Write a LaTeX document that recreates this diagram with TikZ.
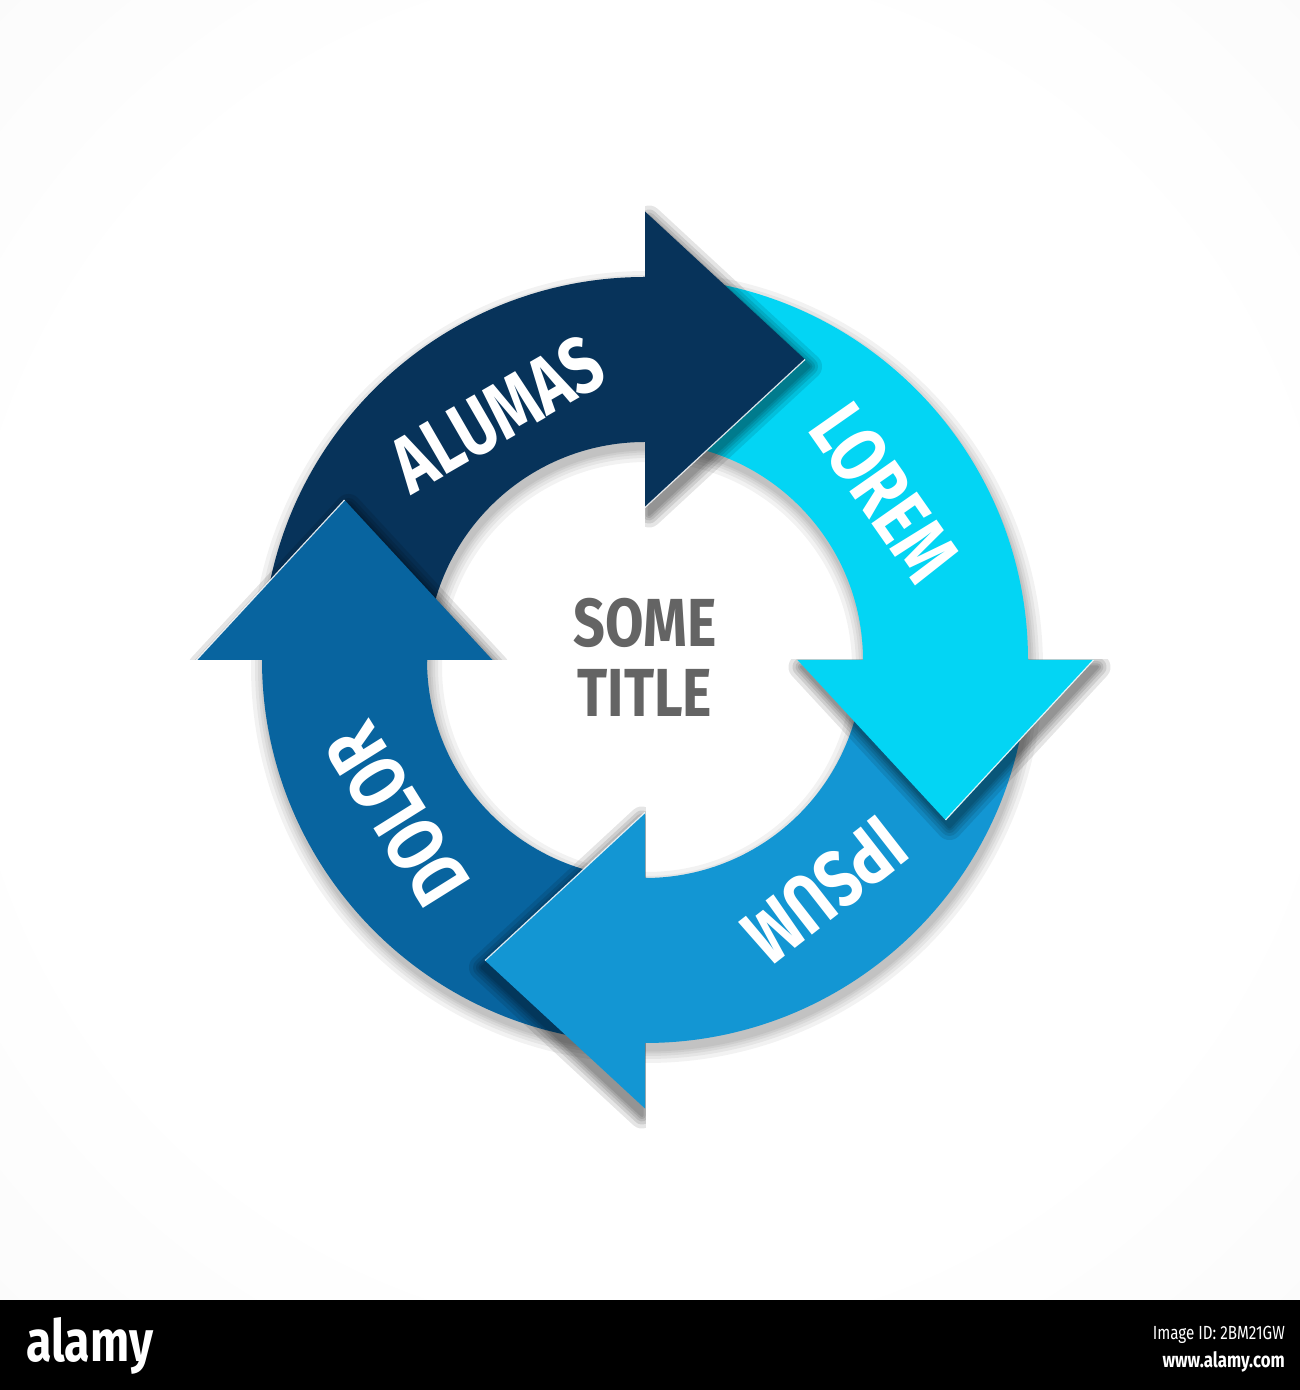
\documentclass[tikz,border=0pt]{standalone}
\usepackage{fontspec}
\newfontfamily\dinfont{Fira Sans}[FakeStretch=0.78]
\newfontfamily\titlefont{Fira Sans}[FakeStretch=0.82]
\newfontfamily\logofont{Fira Sans}[FakeStretch=0.8]
\definecolor{cNavy}{HTML}{07335A}
\definecolor{cCyan}{HTML}{03D5F4}
\definecolor{cMid}{HTML}{1396D3}
\definecolor{cSteel}{HTML}{08649F}
\definecolor{cTitle}{HTML}{646464}
\pgfdeclareradialshading{bgshade}{\pgfpoint{0bp}{0bp}}{color(0bp)=(white); color(25bp)=(white); color(50bp)=(gray!7); color(72bp)=(gray!13)}
\newcommand{\mysoftshadow}[3]{%
  \foreach \w in {26,18,12,7,3}{%
    \begin{scope}[transparency group, opacity=#1]
      \filldraw[black, line width=\w pt, line join=round, shift={#2}] #3;
    \end{scope}}}
\begin{document}
\begin{tikzpicture}[x=1pt,y=1pt,
  lbl/.style={text=white, font=\dinfont\bfseries\fontsize{80}{84}\selectfont, inner sep=0pt},
  ttl/.style={text=cTitle, font=\titlefont\bfseries\fontsize{68}{70}\selectfont, align=center, inner sep=0pt},
  hilite/.style={white, opacity=0.85, line width=1.2pt}
]
\useasboundingbox (0,0) rectangle (1300,1390);
% background
\shade[shading=bgshade] (0,90) rectangle (1300,1390);
\fill[black] (0,0) rectangle (1300,90);
\node[text=white, font=\logofont\bfseries\fontsize{58}{60}\selectfont, anchor=base west, inner sep=0pt] (logo) at (26,28) {alamy};
\node[text=white, font=\logofont\fontsize{19}{20}\selectfont, anchor=base east, inner sep=0pt] (imgid) at (1285,50) {Image ID: 2BM21GW};
\node[text=white, font=\logofont\bfseries\fontsize{21}{22}\selectfont, anchor=base east, inner sep=0pt] (www) at (1285,22) {www.alamy.com};

\begin{scope}[shift={(645,730)}]
% band shadows
\mysoftshadow{0.05}{(2,-7)}{(180:383) arc[start angle=180, end angle=-180, radius=383] -- cycle (0:218) arc[start angle=0, end angle=360, radius=218]}
% bands
\fill[cNavy] (180:383) arc[start angle=180, end angle=90, radius=383] -- (90:218) arc[start angle=90, end angle=180, radius=218] -- cycle;
\fill[cCyan] (90:383) arc[start angle=90, end angle=0, radius=383] -- (0:218) arc[start angle=0, end angle=90, radius=218] -- cycle;
\fill[cMid] (0:383) arc[start angle=0, end angle=-90, radius=383] -- (-90:218) arc[start angle=-90, end angle=0, radius=218] -- cycle;
\fill[cSteel] (-90:383) arc[start angle=-90, end angle=-180, radius=383] -- (-180:218) arc[start angle=-180, end angle=-90, radius=218] -- cycle;
% head shadows (only on the tip side of each base)
\begin{scope}
\clip (0,-700) rectangle (700,700);
\mysoftshadow{0.1}{(4,-7)}{(0,152.5) -- (0,448.5) -- (160,300.5) -- cycle}
\end{scope}
\begin{scope}
\clip (-700,0) rectangle (700,-700);
\mysoftshadow{0.1}{(4,-7)}{(152.5,0) -- (448.5,0) -- (300.5,-160) -- cycle}
\end{scope}
\begin{scope}
\clip (-700,-700) rectangle (0,700);
\mysoftshadow{0.1}{(-3,-7)}{(0,-152.5) -- (0,-448.5) -- (-160,-300.5) -- cycle}
\end{scope}
\begin{scope}
\clip (-700,0) rectangle (700,700);
\mysoftshadow{0.1}{(4,-7)}{(-152.5,0) -- (-448.5,0) -- (-300.5,160) -- cycle}
\end{scope}
% heads (base pushed 2pt back into own band to hide seams)
\fill[cNavy] (-2,218) -- (-2,383) -- (0,383) -- (0,448.5) -- (160,300.5) -- (0,152.5) -- (0,218) -- cycle;
\fill[cCyan] (218,2) -- (383,2) -- (383,0) -- (448.5,0) -- (300.5,-160) -- (152.5,0) -- (218,0) -- cycle;
\fill[cMid] (2,-218) -- (2,-383) -- (0,-383) -- (0,-448.5) -- (-160,-300.5) -- (0,-152.5) -- (0,-218) -- cycle;
\fill[cSteel] (-218,-2) -- (-383,-2) -- (-383,0) -- (-448.5,0) -- (-300.5,160) -- (-152.5,0) -- (-218,0) -- cycle;
% edge highlights
\draw[hilite] (160,300.5) -- (0,152.5);
\draw[hilite] (448.5,0) -- (300.5,-160);
\draw[hilite] (-160,-300.5) -- (0,-152.5);
\draw[hilite] (-448.5,0) -- (-300.5,160);
% labels
\node[lbl, rotate=30] (alumas) at (121:287) {ALUMAS};
\node[lbl, rotate=-55] (lorem) at (35:292) {LOREM};
\node[lbl, rotate=-142] (ipsum) at (-52:292) {IPSUM};
\node[lbl, rotate=122] (dolor) at (212:292) {DOLOR};
\node[ttl] (title) at (0,3) {SOME\\TITLE};
\end{scope}
\end{tikzpicture}
\end{document}
